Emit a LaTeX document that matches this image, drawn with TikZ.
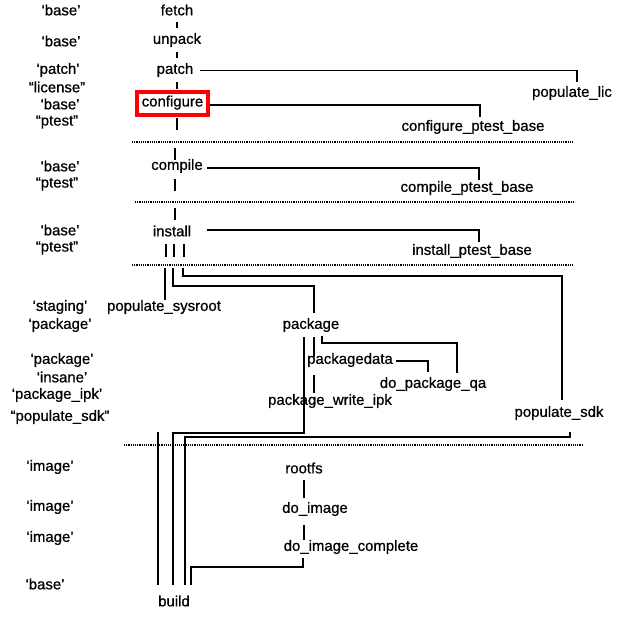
\documentclass[tikz,border=0pt]{standalone}
\usepackage{fontspec}
\setmainfont{Liberation Sans}[FakeBold=0.7]
\begin{document}
\begin{tikzpicture}[x=1bp,y=-1bp,
  every node/.style={inner sep=0pt, font=\fontsize{15}{18}\selectfont},
  conn/.style={line width=1.3bp},
  sep/.style={line width=1.2bp, dash pattern=on 1.1bp off 1.1bp},
  hilite/.style={draw=red, line width=3.5bp, minimum width=71bp, minimum height=23bp}]
\useasboundingbox (0,0) rectangle (618,619);
% left labels
\node (l1) at (61,10) {‘base’};
\node (l2) at (61,41) {‘base’};
\node (l3) at (58,70) {‘patch’};
\node (l4) at (57,87) {“license”};
\node (l5) at (60,104) {‘base’};
\node (l6) at (57,122) {“ptest”};
\node (l7) at (60,166) {‘base’};
\node (l8) at (57,184) {“ptest”};
\node (l9) at (60,230) {‘base’};
\node (l10) at (57,248) {“ptest”};
\node (l11) at (60,307) {‘staging’};
\node (l12) at (60,325) {‘package’};
\node (l13) at (62,360) {‘package’};
\node (l14) at (62,377) {‘insane’};
\node (l15) at (57,395) {‘package\_ipk’};
\node (l16) at (60,417) {“populate\_sdk”};
\node (l17) at (50,467) {‘image’};
\node (l18) at (50,507) {‘image’};
\node (l19) at (50,538) {‘image’};
\node (l20) at (45,584) {‘base’};
% task nodes
\node (fetch) at (177,10) {fetch};
\node (unpack) at (177,40) {unpack};
\node (patch) at (175,70) {patch};
\node[hilite, text depth=4bp, text height=10bp] (configure) at (172.5,103.5) {configure};
\node (poplic) at (572,93) {populate\_lic};
\node (confpt) at (473,127) {configure\_ptest\_base};
\node (compile) at (177,166) {compile};
\node (comppt) at (467,188) {compile\_ptest\_base};
\node (install) at (172,231) {install};
\node (instpt) at (472,251) {install\_ptest\_base};
\node (sysroot) at (164,307) {populate\_sysroot};
\node (package) at (311,325) {package};
\node (pkgdata) at (350,360) {packagedata};
\node (pkgqa) at (433,384) {do\_package\_qa};
\node (pkgipk) at (330,401) {package\_write\_ipk};
\node (popsdk) at (559,413) {populate\_sdk};
\node (rootfs) at (304,468) {rootfs};
\node (doimage) at (315,509) {do\_image};
\node (doimgc) at (351,547) {do\_image\_complete};
\node (build) at (174,601) {build};
% separators
\draw[sep] (132,142) -- (573,142);
\draw[sep] (135,202) -- (575,202);
\draw[sep] (132,265) -- (573,265);
\draw[sep] (124,445) -- (582,445);
% ticks in main chain
\draw[conn] (177,22) -- (177,28);
\draw[conn] (177,52) -- (177,58);
\draw[conn] (177,82) -- (177,89);
\draw[conn] (177,118) -- (177,130);
\draw[conn] (175,148) -- (175,160);
\draw[conn] (175,179) -- (175,191);
\draw[conn] (175,208) -- (175,220);
\draw[conn] (166,244) -- (166,257);
\draw[conn] (174,244) -- (174,257);
\draw[conn] (184,244) -- (184,257);
% branches to the right
\draw[conn] (200,70.5) -| (577,82);
\draw[conn] (configure.east) ++(0,1.5) -| (480,117);
\draw[conn] (207,168) -| (479,180);
\draw[conn] (207,230) -| (479,242);
% after install
\draw[conn] (165,268) -- (165,300);
\draw[conn] (173,268) |- (314,286) -- (314,313);
\draw[conn] (183,268) |- (562,276) -- (562,400);
% package area
\draw[conn] (314,337) -- (314,357);
\draw[conn] (314,375) -- (314,393);
\draw[conn] (322,336) |- (457,343) -- (457,373);
\draw[conn] (396,361) -| (428,372);
\draw[conn] (304,337) |- (173,433) -- (173,585);
\draw[conn] (570,432) |- (185,437) -- (185,585);
\draw[conn] (158,432) -- (158,585);
% image chain
\draw[conn] (304,480) -- (304,498);
\draw[conn] (304,525) -- (304,540);
\draw[conn] (303,558) |- (191,567) -- (191,585);
\end{tikzpicture}
\end{document}
